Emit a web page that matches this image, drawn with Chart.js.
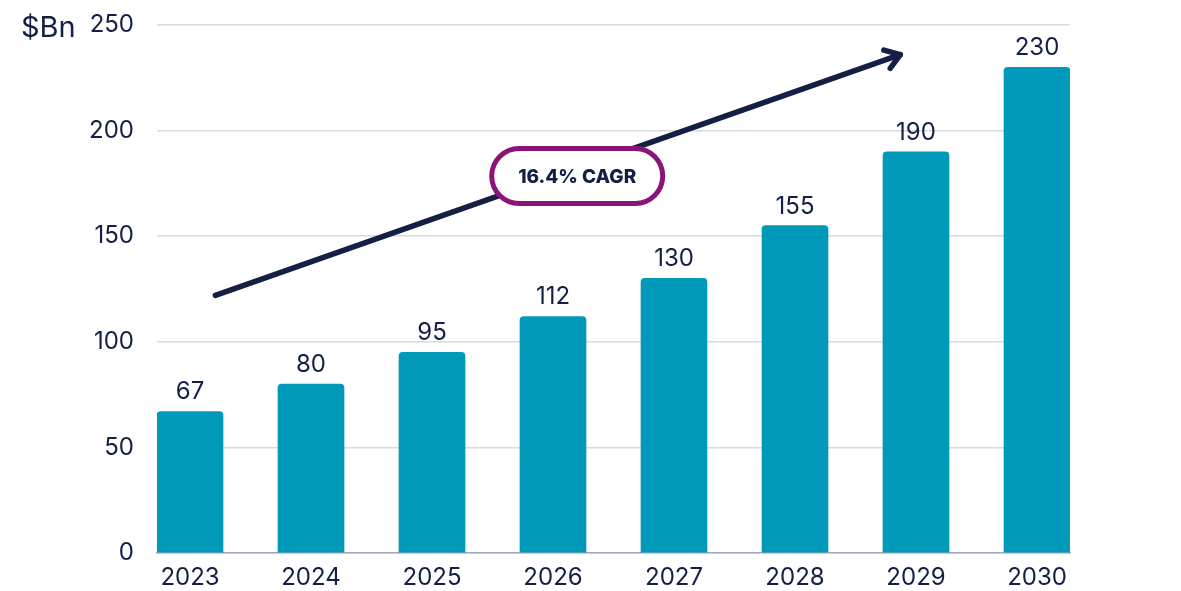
<!DOCTYPE html>
<html>
<head>
<meta charset="utf-8">
<script src="https://cdn.jsdelivr.net/npm/chart.js@4"></script>
<style>
  html, body { margin: 0; padding: 0; background: #fff; }
  #wrap { position: relative; width: 1181px; height: 591px; }
</style>
</head>
<body>
<div id="wrap"><canvas id="myChart" width="1181" height="591"></canvas></div>
<script>
// data
const years = ['2023', '2024', '2025', '2026', '2027', '2028', '2029', '2030']
const marketSize = [67, 80, 95, 112, 130, 155, 190, 230]
const yTicks = [0, 50, 100, 150, 200, 250]
const unitLabel = '$Bn'
const cagrText = '16.4% CAGR'
// arrow ends and pill centre, in data units (x = year index, y = $Bn)
const arrowFrom = { x: 0.21, y: 122 }
const arrowTo = { x: 5.87, y: 236 }
const pillAt = { x: 3.2, y: 178.5 }

const navy = '#141f45'
const teal = '#0099b9'
const purple = '#8c1479'
const font = 'Inter, "Open Sans", sans-serif'

const xPad = 33 / 121 // half a bar, in category units

// value labels over bars + the $Bn unit
const labelsPlugin = {
	id: 'labels',
	afterDatasetsDraw(chart) {
		const ctx = chart.ctx
		const meta = chart.getDatasetMeta(0)
		ctx.save()
		ctx.fillStyle = navy
		ctx.font = '24px ' + font
		ctx.textAlign = 'center'
		ctx.textBaseline = 'alphabetic'
		meta.data.forEach((bar, i) => {
			ctx.fillText(marketSize[i], bar.x, bar.y - 12)
		})
		ctx.textAlign = 'left'
		ctx.textBaseline = 'middle'
		ctx.font = '29px ' + font
		ctx.fillText(unitLabel, 21, chart.scales.y.getPixelForValue(yTicks[yTicks.length - 1]) + 3)
		ctx.restore()
	}
}

// CAGR arrow and pill
const cagrPlugin = {
	id: 'cagr',
	afterDraw(chart) {
		const ctx = chart.ctx
		const xs = chart.scales.x
		const ys = chart.scales.y
		const x1 = xs.getPixelForValue(arrowFrom.x), y1 = ys.getPixelForValue(arrowFrom.y)
		const x2 = xs.getPixelForValue(arrowTo.x), y2 = ys.getPixelForValue(arrowTo.y)
		const ang = Math.atan2(y2 - y1, x2 - x1)
		ctx.save()
		ctx.strokeStyle = navy
		ctx.lineWidth = 5.5
		ctx.lineCap = 'round'
		ctx.lineJoin = 'round'
		ctx.beginPath()
		ctx.moveTo(x1, y1)
		ctx.lineTo(x2, y2)
		ctx.stroke()
		ctx.beginPath()
		ctx.moveTo(x2 + 17 * Math.cos(ang + Math.PI - 0.6), y2 + 17 * Math.sin(ang + Math.PI - 0.6))
		ctx.lineTo(x2, y2)
		ctx.lineTo(x2 + 17 * Math.cos(ang + Math.PI + 0.6), y2 + 17 * Math.sin(ang + Math.PI + 0.6))
		ctx.stroke()

		const cx = xs.getPixelForValue(pillAt.x), cy = ys.getPixelForValue(pillAt.y)
		const w = 171, h = 55
		ctx.beginPath()
		ctx.roundRect(cx - w / 2, cy - h / 2, w, h, h / 2)
		ctx.fillStyle = '#fff'
		ctx.fill()
		ctx.lineWidth = 5
		ctx.strokeStyle = purple
		ctx.stroke()
		ctx.fillStyle = navy
		ctx.font = '800 19px ' + font
		ctx.textAlign = 'center'
		ctx.textBaseline = 'middle'
		ctx.fillText(cagrText, cx, cy + 1)
		ctx.restore()
	}
}

let ctx = document.getElementById('myChart').getContext('2d')

let myChart = new Chart(ctx, {
	type: 'bar',
	data: {
		datasets: [{
			data: years.map((y, i) => ({ x: i, y: marketSize[i] })),
			backgroundColor: teal,
			barThickness: 66,
			borderRadius: { topLeft: 4, topRight: 4 },
			borderSkipped: 'bottom'
		}]
	},
	options: {
		responsive: false,
		animation: false,
		layout: { padding: { top: 25, right: 111, left: 0, bottom: 0 } },
		plugins: {
			legend: { display: false },
			tooltip: { enabled: false }
		},
		scales: {
			x: {
				type: 'linear',
				offset: false,
				min: -xPad,
				max: years.length - 1 + xPad,
				afterBuildTicks: s => { s.ticks = years.map((y, i) => ({ value: i })) },
				afterFit: s => { s.height = 38; s.paddingLeft = 0; s.paddingRight = 0 },
				grid: { display: false, drawTicks: false },
				border: { display: true, color: '#a3a8c0', width: 1.5 },
				ticks: {
					autoSkip: false,
					maxRotation: 0,
					padding: 10,
					color: navy,
					font: { family: font, size: 24 },
					callback: v => years[v]
				}
			},
			y: {
				min: 0,
				max: 250,
				afterBuildTicks: s => { s.ticks = yTicks.map(v => ({ value: v })) },
				afterFit: s => { s.width = 157; s.paddingTop = 0; s.paddingBottom = 0 },
				grid: { color: '#d8dae3', lineWidth: 1.5, drawTicks: false },
				border: { display: false },
				ticks: {
					padding: 23,
					color: navy,
					font: { family: font, size: 24 }
				}
			}
		}
	},
	plugins: [labelsPlugin, cagrPlugin]
})
</script>
</body>
</html>
